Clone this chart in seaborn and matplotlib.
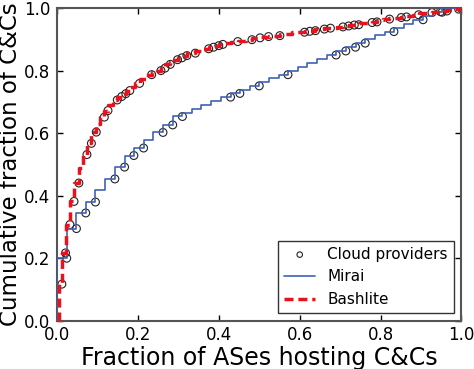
import matplotlib
matplotlib.use("Agg")
import matplotlib.pyplot as plt
import pandas as pd
import seaborn as sns

# Mirai: one step per AS (sorted by number of C&Cs)
mirai_x = [0.024, 0.048, 0.071, 0.095, 0.119, 0.143, 0.167, 0.190, 0.214, 0.238,
           0.262, 0.286, 0.310, 0.333, 0.357, 0.381, 0.405, 0.429, 0.452, 0.476,
           0.500, 0.524, 0.548, 0.571, 0.595, 0.619, 0.643, 0.667, 0.690, 0.714,
           0.738, 0.762, 0.786, 0.810, 0.833, 0.857, 0.881, 0.905, 0.929, 0.952,
           0.976, 1.000]
mirai_y = [0.200, 0.295, 0.345, 0.380, 0.417, 0.454, 0.492, 0.529, 0.553, 0.578,
           0.603, 0.627, 0.654, 0.666, 0.679, 0.691, 0.704, 0.716, 0.728, 0.740,
           0.752, 0.764, 0.776, 0.788, 0.801, 0.813, 0.826, 0.838, 0.851, 0.864,
           0.876, 0.889, 0.901, 0.914, 0.926, 0.939, 0.951, 0.964, 0.976, 0.988,
           1.000, 1.000]
mirai_cloud = [1, 1, 1, 1, 0, 1, 1, 1, 1, 0,
               1, 1, 1, 0, 0, 0, 0, 1, 1, 0,
               1, 0, 0, 1, 0, 0, 0, 0, 1, 1,
               1, 1, 0, 0, 1, 0, 0, 1, 0, 1,
               0, 1]

# Bashlite
bash_x = [0.004, 0.012, 0.021, 0.032, 0.042, 0.054, 0.064, 0.074, 0.085, 0.097,
          0.107, 0.117, 0.126, 0.138, 0.149, 0.160, 0.170, 0.180, 0.192, 0.204,
          0.219, 0.234, 0.246, 0.257, 0.267, 0.280, 0.289, 0.298, 0.309, 0.321,
          0.342, 0.358, 0.375, 0.387, 0.400, 0.410, 0.430, 0.447, 0.466, 0.482,
          0.502, 0.523, 0.551, 0.580, 0.612, 0.625, 0.639, 0.661, 0.676, 0.692,
          0.707, 0.721, 0.735, 0.746, 0.762, 0.779, 0.791, 0.806, 0.822, 0.851,
          0.864, 0.880, 0.894, 0.910, 0.927, 0.948, 0.964, 0.980, 0.993, 1.000]
bash_y = [0.000, 0.117, 0.217, 0.308, 0.382, 0.441, 0.490, 0.532, 0.568, 0.604,
          0.630, 0.652, 0.673, 0.690, 0.707, 0.718, 0.727, 0.737, 0.750, 0.760,
          0.775, 0.788, 0.795, 0.801, 0.809, 0.821, 0.829, 0.836, 0.842, 0.849,
          0.857, 0.864, 0.871, 0.876, 0.881, 0.885, 0.890, 0.894, 0.897, 0.900,
          0.906, 0.910, 0.913, 0.918, 0.924, 0.927, 0.929, 0.934, 0.937, 0.939,
          0.941, 0.944, 0.947, 0.948, 0.952, 0.955, 0.957, 0.962, 0.966, 0.971,
          0.973, 0.977, 0.980, 0.984, 0.987, 0.990, 0.992, 0.995, 0.998, 1.000]
bash_cloud = [0, 1, 1, 1, 1, 1, 0, 1, 1, 1,
              0, 1, 1, 0, 1, 1, 1, 1, 0, 1,
              0, 1, 0, 1, 1, 1, 0, 1, 1, 1,
              1, 0, 1, 1, 1, 1, 0, 1, 0, 1,
              1, 1, 1, 0, 1, 1, 1, 1, 1, 0,
              1, 1, 1, 1, 0, 1, 1, 0, 1, 1,
              1, 0, 1, 0, 1, 1, 1, 0, 1, 0]

mirai = pd.DataFrame({"x": [0.0] + mirai_x, "y": [0.0] + mirai_y})
bash = pd.DataFrame({"x": bash_x, "y": bash_y})
cloud = pd.concat([
    pd.DataFrame({"x": mirai_x, "y": mirai_y, "c": mirai_cloud}),
    pd.DataFrame({"x": bash_x, "y": bash_y, "c": bash_cloud}),
])
cloud = cloud[cloud["c"] == 1]

sns.set_style("ticks")
plt.rcParams["font.family"] = ["DejaVu Sans"]
plt.rcParams["text.color"] = "black"
plt.rcParams["axes.labelcolor"] = "black"
plt.rcParams["xtick.color"] = "black"
plt.rcParams["ytick.color"] = "black"

fig = plt.figure(figsize=(4.74, 3.69), dpi=100)
ax = fig.add_axes([0.1203, 0.131, 0.8533, 0.846])

sns.scatterplot(x="x", y="y", data=cloud, ax=ax, marker="o", s=32,
                facecolors="none", edgecolor="#222222", linewidth=0.8,
                label="Cloud providers", zorder=2)
sns.lineplot(x="x", y="y", data=mirai, ax=ax, estimator=None, sort=False,
             drawstyle="steps-pre", color="#3f62b4", linewidth=1.2,
             label="Mirai", zorder=3)
sns.lineplot(x="x", y="y", data=bash, ax=ax, estimator=None, sort=False,
             drawstyle="steps-pre", color="#e8121e", linewidth=2.5,
             linestyle=(0, (2.6, 1.4)), label="Bashlite", zorder=4)

ax.set_xlim(0, 1)
ax.set_ylim(0, 1)
ax.set_xticks([0.0, 0.2, 0.4, 0.6, 0.8, 1.0])
ax.set_yticks([0.0, 0.2, 0.4, 0.6, 0.8, 1.0])
ax.set_xlabel("Fraction of ASes hosting C&Cs", fontsize=17, labelpad=1)
ax.set_ylabel("Cumulative fraction of C&Cs", fontsize=16.5, labelpad=1)
ax.tick_params(direction="in", length=4, width=1, top=True, right=True,
               labelsize=12)
ax.tick_params(axis="x", pad=4)
ax.tick_params(axis="y", pad=5)
for sp in ax.spines.values():
    sp.set_visible(True)
    sp.set_color("#555555")
    sp.set_linewidth(1.5)

leg = ax.legend(loc="lower right", fontsize=11, fancybox=False, framealpha=1,
                edgecolor="#333333", scatterpoints=1, markerscale=0.7,
                handlelength=2.0)
leg.get_frame().set_linewidth(1.0)

fig.savefig("out.png", dpi=100)
